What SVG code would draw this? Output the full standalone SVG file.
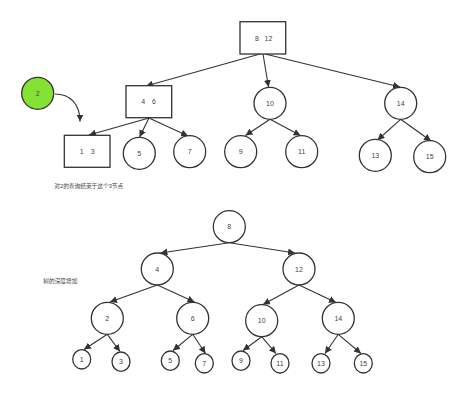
<svg xmlns="http://www.w3.org/2000/svg" width="474" height="402" viewBox="0 0 474 402">
<style>
.n{fill:#fff;stroke:#333;stroke-width:1.3}
.g{fill:#84e234;stroke:#333;stroke-width:1.3}
.e{fill:none;stroke:#333;stroke-width:1.1;marker-end:url(#ah)}
text{font-family:"Liberation Sans","Noto Sans CJK SC",sans-serif;font-size:7px;fill:#444;text-anchor:middle;dominant-baseline:central}
.lab{text-anchor:start;font-size:5.7px}
</style>
<defs>
<marker id="ah" markerUnits="userSpaceOnUse" markerWidth="8" markerHeight="7" refX="7" refY="3.5" orient="auto">
<path d="M0,0 L7,3.5 L0,7 z" fill="#333"/>
</marker>
</defs>
<rect width="474" height="402" fill="#fff"/>
<g id="connectors">
<line class="e" x1="260" y1="54" x2="146" y2="86"/>
<line class="e" x1="263" y1="54" x2="268.5" y2="87"/>
<line class="e" x1="265" y1="54" x2="400" y2="87"/>
<line class="e" x1="149" y1="118" x2="89" y2="135"/>
<line class="e" x1="149" y1="118" x2="139.5" y2="137"/>
<line class="e" x1="149" y1="118" x2="188" y2="136"/>
<line class="e" x1="270" y1="119.3" x2="245.5" y2="135.5"/>
<line class="e" x1="270" y1="119.3" x2="300.5" y2="135.5"/>
<line class="e" x1="400.7" y1="119.3" x2="377.5" y2="140"/>
<line class="e" x1="400.7" y1="119.3" x2="431" y2="141"/>
<path class="e" d="M55,94 C70,94 80,104 80,121.5"/>
<line class="e" x1="229.3" y1="242.7" x2="160.5" y2="253"/>
<line class="e" x1="229.3" y1="242.7" x2="295" y2="253"/>
<line class="e" x1="157.3" y1="285" x2="110" y2="302"/>
<line class="e" x1="157.3" y1="285" x2="194.5" y2="302"/>
<line class="e" x1="299" y1="285" x2="263" y2="304.5"/>
<line class="e" x1="299" y1="285" x2="336" y2="302.5"/>
<line class="e" x1="107.3" y1="334.3" x2="84" y2="349.5"/>
<line class="e" x1="107.3" y1="334.3" x2="120" y2="351.5"/>
<line class="e" x1="192.7" y1="334.3" x2="173" y2="350.5"/>
<line class="e" x1="192.7" y1="334.3" x2="205.5" y2="353.5"/>
<line class="e" x1="261.7" y1="336.7" x2="243" y2="350.5"/>
<line class="e" x1="261.7" y1="336.7" x2="276" y2="353.5"/>
<line class="e" x1="338.3" y1="334.3" x2="325" y2="353.5"/>
<line class="e" x1="338.3" y1="334.3" x2="361" y2="353.5"/>
</g>
<g id="root812"><rect class="n" x="240" y="21.7" width="45.7" height="32.3"/><text x="257" y="38.3">8</text><text x="268.5" y="38.3">12</text></g>
<g id="n46"><rect class="n" x="126" y="85.7" width="45.7" height="32"/><text x="143.3" y="101.7">4</text><text x="154" y="101.7">6</text></g>
<g id="t10"><circle class="n" cx="270" cy="103.3" r="16"/><text x="270" y="103.3">10</text></g>
<g id="t14"><circle class="n" cx="400.7" cy="103.3" r="16"/><text x="400.7" y="103.3">14</text></g>
<g id="g2"><circle class="g" cx="37.7" cy="93.3" r="16"/><text x="37.7" y="93.3">2</text></g>
<g id="n13"><rect class="n" x="64.3" y="135.3" width="45.7" height="32"/><text x="81.7" y="151.7">1</text><text x="92.7" y="151.7">3</text></g>
<g id="t5"><circle class="n" cx="139.3" cy="153.3" r="16"/><text x="139.3" y="153.3">5</text></g>
<g id="t7"><circle class="n" cx="189.7" cy="151.7" r="16"/><text x="189.7" y="151.7">7</text></g>
<g id="t9"><circle class="n" cx="240.7" cy="151.7" r="16"/><text x="240.7" y="151.7">9</text></g>
<g id="t11"><circle class="n" cx="301.7" cy="151.7" r="16"/><text x="301.7" y="151.7">11</text></g>
<g id="t13"><circle class="n" cx="375.3" cy="155.3" r="16"/><text x="375.3" y="155.3">13</text></g>
<g id="t15"><circle class="n" cx="429.7" cy="156.7" r="16"/><text x="429.7" y="156.7">15</text></g>
<text class="lab" x="54.3" y="185.7">对2的查询结束于这个3节点</text>
<g id="b8"><circle class="n" cx="229.3" cy="226.7" r="16"/><text x="229.3" y="226.7">8</text></g>
<g id="b4"><circle class="n" cx="157.3" cy="269" r="16"/><text x="157.3" y="269">4</text></g>
<g id="b12"><circle class="n" cx="299" cy="269" r="16"/><text x="299" y="269">12</text></g>
<text class="lab" x="43.3" y="280.7">树的深度增加</text>
<g id="b2"><circle class="n" cx="107.3" cy="318.3" r="16"/><text x="107.3" y="318.3">2</text></g>
<g id="b6"><circle class="n" cx="192.7" cy="318.3" r="16"/><text x="192.7" y="318.3">6</text></g>
<g id="b10"><circle class="n" cx="261.7" cy="320.7" r="16"/><text x="261.7" y="320.7">10</text></g>
<g id="b14"><circle class="n" cx="338.3" cy="318.3" r="16"/><text x="338.3" y="318.3">14</text></g>
<g id="b1"><ellipse class="n" cx="81.7" cy="359.3" rx="9" ry="9.7"/><text x="81.7" y="359.3">1</text></g>
<g id="b3"><ellipse class="n" cx="121" cy="361.7" rx="9" ry="9.7"/><text x="121" y="361.7">3</text></g>
<g id="b5"><ellipse class="n" cx="170.3" cy="360.7" rx="9" ry="9.7"/><text x="170.3" y="360.7">5</text></g>
<g id="b7"><ellipse class="n" cx="204.3" cy="363.3" rx="9" ry="9.7"/><text x="204.3" y="363.3">7</text></g>
<g id="b9"><ellipse class="n" cx="241" cy="360.7" rx="9" ry="9.7"/><text x="241" y="360.7">9</text></g>
<g id="b11"><ellipse class="n" cx="280" cy="363.3" rx="9" ry="9.7"/><text x="280" y="363.3">11</text></g>
<g id="b13"><ellipse class="n" cx="321" cy="363.3" rx="9" ry="9.7"/><text x="321" y="363.3">13</text></g>
<g id="b15"><ellipse class="n" cx="363.3" cy="363.3" rx="9" ry="9.7"/><text x="363.3" y="363.3">15</text></g>
</svg>
